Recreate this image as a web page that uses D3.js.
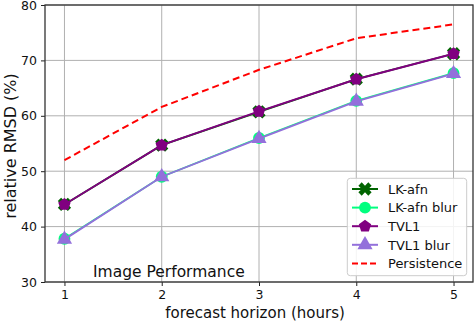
<!DOCTYPE html>
<html><head><meta charset="utf-8">
<script src="https://cdn.jsdelivr.net/npm/d3@7"></script>
<style>body{margin:0;background:#fff;} svg{display:block;font-family:"DejaVu Sans",sans-serif;}</style>
</head><body><svg id="c" width="474" height="322"></svg>
<script>
const horizons = [1, 2, 3, 4, 5];
const lkAfn = [44.0, 54.7, 60.7, 66.6, 71.2];
const lkAfnBlur = [37.8, 49.0, 56.0, 62.7, 67.7];
const tvl1 = [44.0, 54.7, 60.8, 66.6, 71.2];
const tvl1Blur = [37.7, 49.0, 55.9, 62.6, 67.6];
const persistence = [52.0, 61.6, 68.3, 74.0, 76.5];
const xTicks = [1, 2, 3, 4, 5];
const yTicks = [30, 40, 50, 60, 70, 80];

const svg = d3.select("#c");
const L = 45, R = 473, T = 5, B = 282;
const x = d3.scaleLinear().domain([0.8, 5.2]).range([L, R]);
const y = d3.scaleLinear().domain([30, 80]).range([B, T]);

// grid
const g = svg.append("g");
g.selectAll(".gx").data(xTicks).join("line").attr("x1", d => x(d)).attr("x2", d => x(d)).attr("y1", T).attr("y2", B).attr("stroke", "#b0b0b0").attr("stroke-width", 1);
g.selectAll(".gy").data(yTicks).join("line").attr("y1", d => y(d)).attr("y2", d => y(d)).attr("x1", L).attr("x2", R).attr("stroke", "#b0b0b0").attr("stroke-width", 1);

// axes
const xa = svg.append("g").attr("transform", `translate(0,${B})`).call(d3.axisBottom(x).tickValues(xTicks).tickSize(4).tickPadding(4).tickFormat(d3.format("d")));
const ya = svg.append("g").attr("transform", `translate(${L},0)`).call(d3.axisLeft(y).tickValues(yTicks).tickSize(4).tickPadding(4).tickFormat(d3.format("d")));
[xa, ya].forEach(a => { a.select(".domain").remove(); a.selectAll("text").attr("font-size", 12.5).attr("fill", "#111").attr("font-family", "DejaVu Sans"); a.selectAll("line").attr("stroke", "#222"); });

// frame
svg.append("rect").attr("x", L).attr("y", T).attr("width", R - L).attr("height", B - T).attr("fill", "none").attr("stroke", "#333").attr("stroke-width", 1.3);

const line = d3.line().x((d, i) => x(horizons[i])).y(d => y(d));

function series(vals, color, width, dash) {
  svg.append("path").datum(vals).attr("d", line).attr("fill", "none").attr("stroke", color).attr("stroke-width", width).attr("stroke-dasharray", dash || null);
}
const sym = {
  x: d3.symbol().type(d3.symbolCross).size(110),
  circle: d3.symbol().type(d3.symbolCircle).size(110),
  tri: d3.symbol().type(d3.symbolTriangle).size(100)
};
function pentagon(r) {
  const pts = d3.range(5).map(i => { const a = -Math.PI / 2 + i * 2 * Math.PI / 5; return [r * Math.cos(a), r * Math.sin(a)]; });
  return "M" + pts.map(p => p.join(",")).join("L") + "Z";
}
function markers(vals, kind, color) {
  const m = svg.append("g").selectAll("path").data(vals).join("path")
    .attr("transform", (d, i) => `translate(${x(horizons[i])},${y(d)})` + (kind === "x" ? " rotate(45)" : ""))
    .attr("fill", color);
  if (kind === "pent") m.attr("d", pentagon(6.5)); else m.attr("d", sym[kind]());
}

series(lkAfn, "#006400", 1.8);
markers(lkAfn, "x", "#006400");
series(lkAfnBlur, "#00ff7f", 1.6);
markers(lkAfnBlur, "circle", "#00ff7f");
series(tvl1, "#800080", 1.9);
markers(tvl1, "pent", "#800080");
series(tvl1Blur, "#9370db", 1.9);
markers(tvl1Blur, "tri", "#9370db");
series(persistence, "#ff0000", 2, "7,4");

// labels
svg.append("text").attr("x", 255).attr("y", 318).attr("text-anchor", "middle").attr("font-size", 15).attr("fill", "#111").text("forecast horizon (hours)");
svg.append("text").attr("transform", `translate(16,146) rotate(-90)`).attr("text-anchor", "middle").attr("font-size", 16).attr("fill", "#111").text("relative RMSD (%)");
svg.append("text").attr("x", 93).attr("y", 276.5).attr("font-size", 15.5).attr("fill", "#111").text("Image Performance");

// legend
const legendItems = [
  {name: "LK-afn", color: "#006400", kind: "x"},
  {name: "LK-afn blur", color: "#00ff7f", kind: "circle"},
  {name: "TVL1", color: "#800080", kind: "pent"},
  {name: "TVL1 blur", color: "#9370db", kind: "tri"},
  {name: "Persistence", color: "#ff0000", kind: "dash"}
];
const lg = svg.append("g");
lg.append("rect").attr("x", 347.3).attr("y", 178.3).attr("width", 119.4).attr("height", 97.4).attr("rx", 3).attr("fill", "#fff").attr("fill-opacity", 0.85).attr("stroke", "#ccc");
legendItems.forEach((it, i) => {
  const cy = 189 + i * 18.6;
  lg.append("line").attr("x1", 352).attr("x2", 378).attr("y1", cy).attr("y2", cy).attr("stroke", it.color).attr("stroke-width", 2).attr("stroke-dasharray", it.kind === "dash" ? "6,3" : null);
  if (it.kind !== "dash") {
    const p = lg.append("path").attr("fill", it.color).attr("transform", `translate(365,${cy})` + (it.kind === "x" ? " rotate(45)" : ""));
    if (it.kind === "pent") p.attr("d", pentagon(6.5)); else p.attr("d", sym[it.kind]());
  }
  lg.append("text").attr("x", 388).attr("y", cy + 4.7).attr("font-size", 13).attr("fill", "#111").text(it.name);
});
</script></body></html>
